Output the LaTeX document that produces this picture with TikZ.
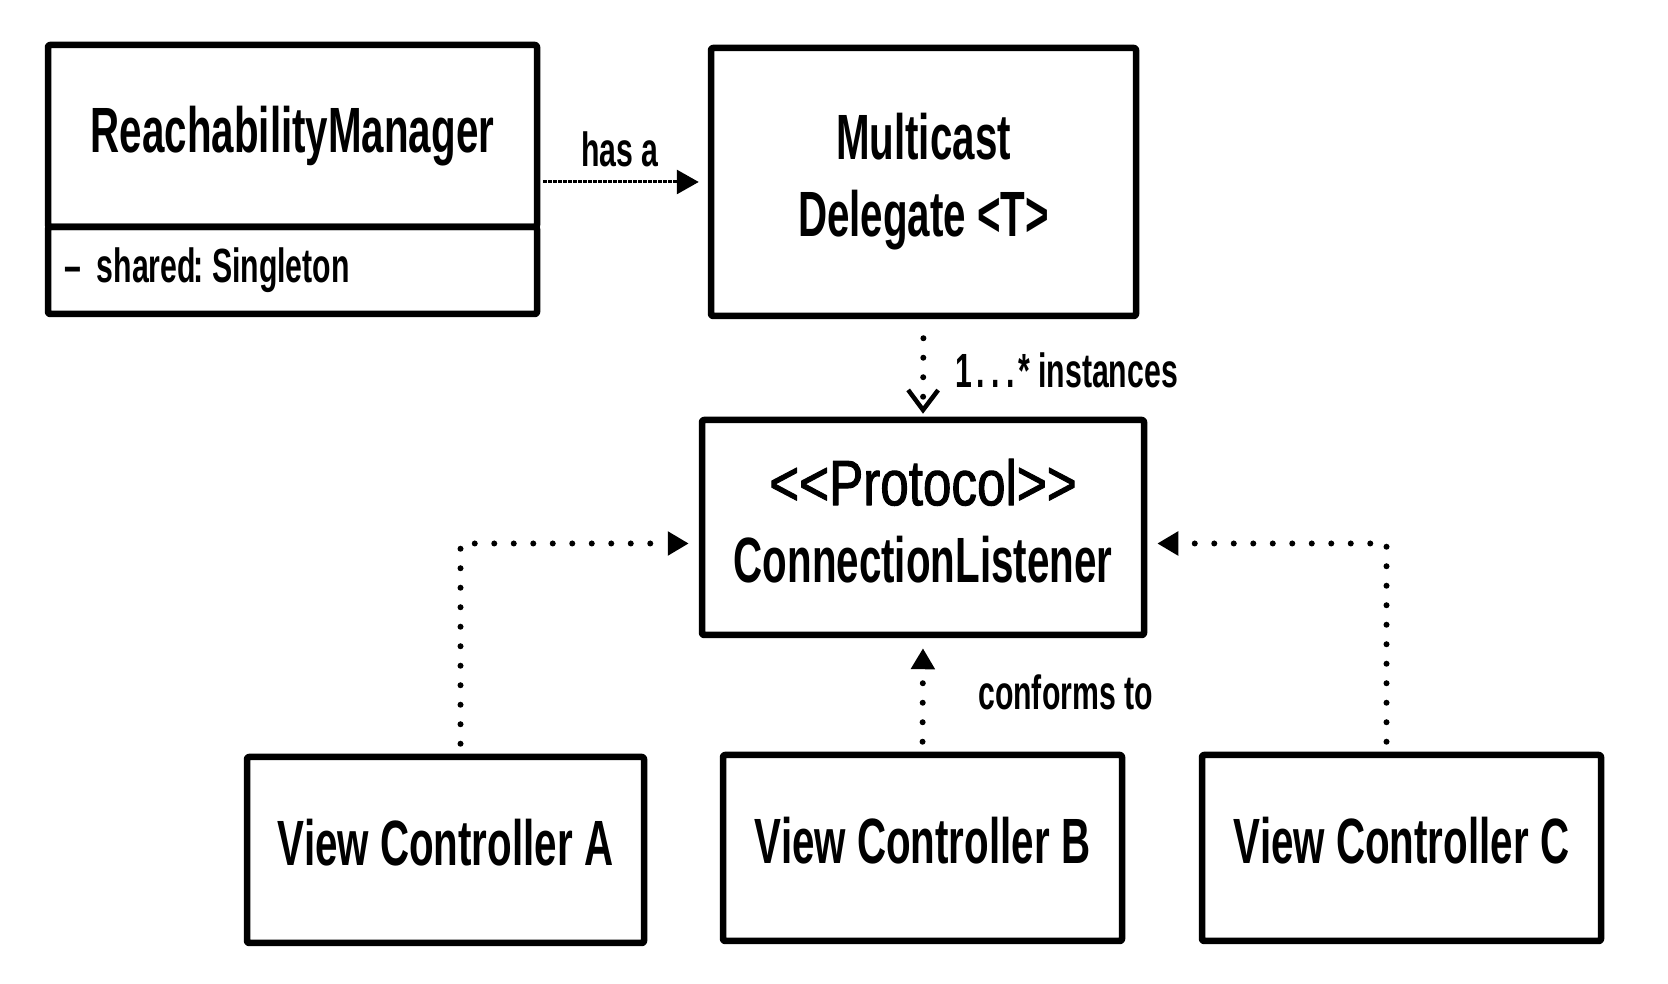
\documentclass[tikz,border=0pt]{standalone}
\usepackage{fontspec}
\setmainfont{Liberation Sans}[FakeStretch=0.63]
\newfontfamily\stereofont{Liberation Sans}[FakeStretch=0.8,FakeBold=1.5]
\usetikzlibrary{arrows.meta,calc}
\frenchspacing

\begin{document}
\begin{tikzpicture}[x=1pt,y=1pt,
  box/.style={draw,line width=6.5pt,rounded corners=2pt,line join=round,inner sep=0pt,align=center,
    font=\fontsize{64}{77}\selectfont\bfseries},
  vc/.style={box,minimum width=399,minimum height=186,text depth=15pt},
  lbl/.style={font=\fontsize{48}{56}\selectfont\bfseries,inner sep=0pt},
  dots/.style={line width=6pt,line cap=round,dash pattern=on 0pt off 19.5pt},
  conf/.style={dots,shorten <=10pt,shorten >=10pt,-{Triangle[length=21pt,width=23pt]}}]
\useasboundingbox (0,0) rectangle (1668,984);
% classes
\node[box,minimum width=489,minimum height=182] (rm) at (292.5,848) {ReachabilityManager};
\node[box,font=\fontsize{48}{56}\selectfont\bfseries,text width=457,align=left,inner xsep=16pt,minimum height=87] (rmattr) at (292.5,713.5) {– shared\kern-2pt:\kern-8pt{} Singleton};
\node[box,minimum width=425,minimum height=268] (md) at (923.5,802) {Multicast\\Delegate <T>};
\node[box,minimum width=442,minimum height=215,text depth=14pt] (cl) at (923,456.5) {{\stereofont\mdseries <{}<Protocol>{}>}\\\bfseries ConnectionListener};
\node[vc,minimum width=397] (vca) at (445.5,134) {View Controller A};
\node[vc] (vcb) at (922.5,136) {View Controller B};
\node[vc] (vcc) at (1401.5,136) {View Controller C};
% labels
\node[lbl] (hasa) at (620,835) {has a};
\node[lbl,anchor=west] (inst) at (955,614) {1\kern4pt.\kern7pt.\kern7pt.\kern3pt* instances};
\node[lbl,anchor=west] (conforms) at (978,292) {conforms to};
% connectors
\draw[line width=3pt,dash pattern=on 4pt off 1pt,shorten <=3pt,shorten >=9pt,
  -{Triangle[length=22pt,width=24pt]}] (rm.east |- md.west) -- (md.west);
\draw[dots,shorten <=19pt,shorten >=3pt,-{Straight Barb[length=20pt,width=30pt,line width=4.5pt]}] (md.south) -- (cl.north);
\draw[conf] ([xshift=15pt]vca.north) |- ([yshift=-16pt]cl.west);
\draw[conf] (vcb.north) -- (cl.south);
\draw[conf] ([xshift=-15pt]vcc.north) |- ([yshift=-16pt]cl.east);
\end{tikzpicture}
\end{document}
